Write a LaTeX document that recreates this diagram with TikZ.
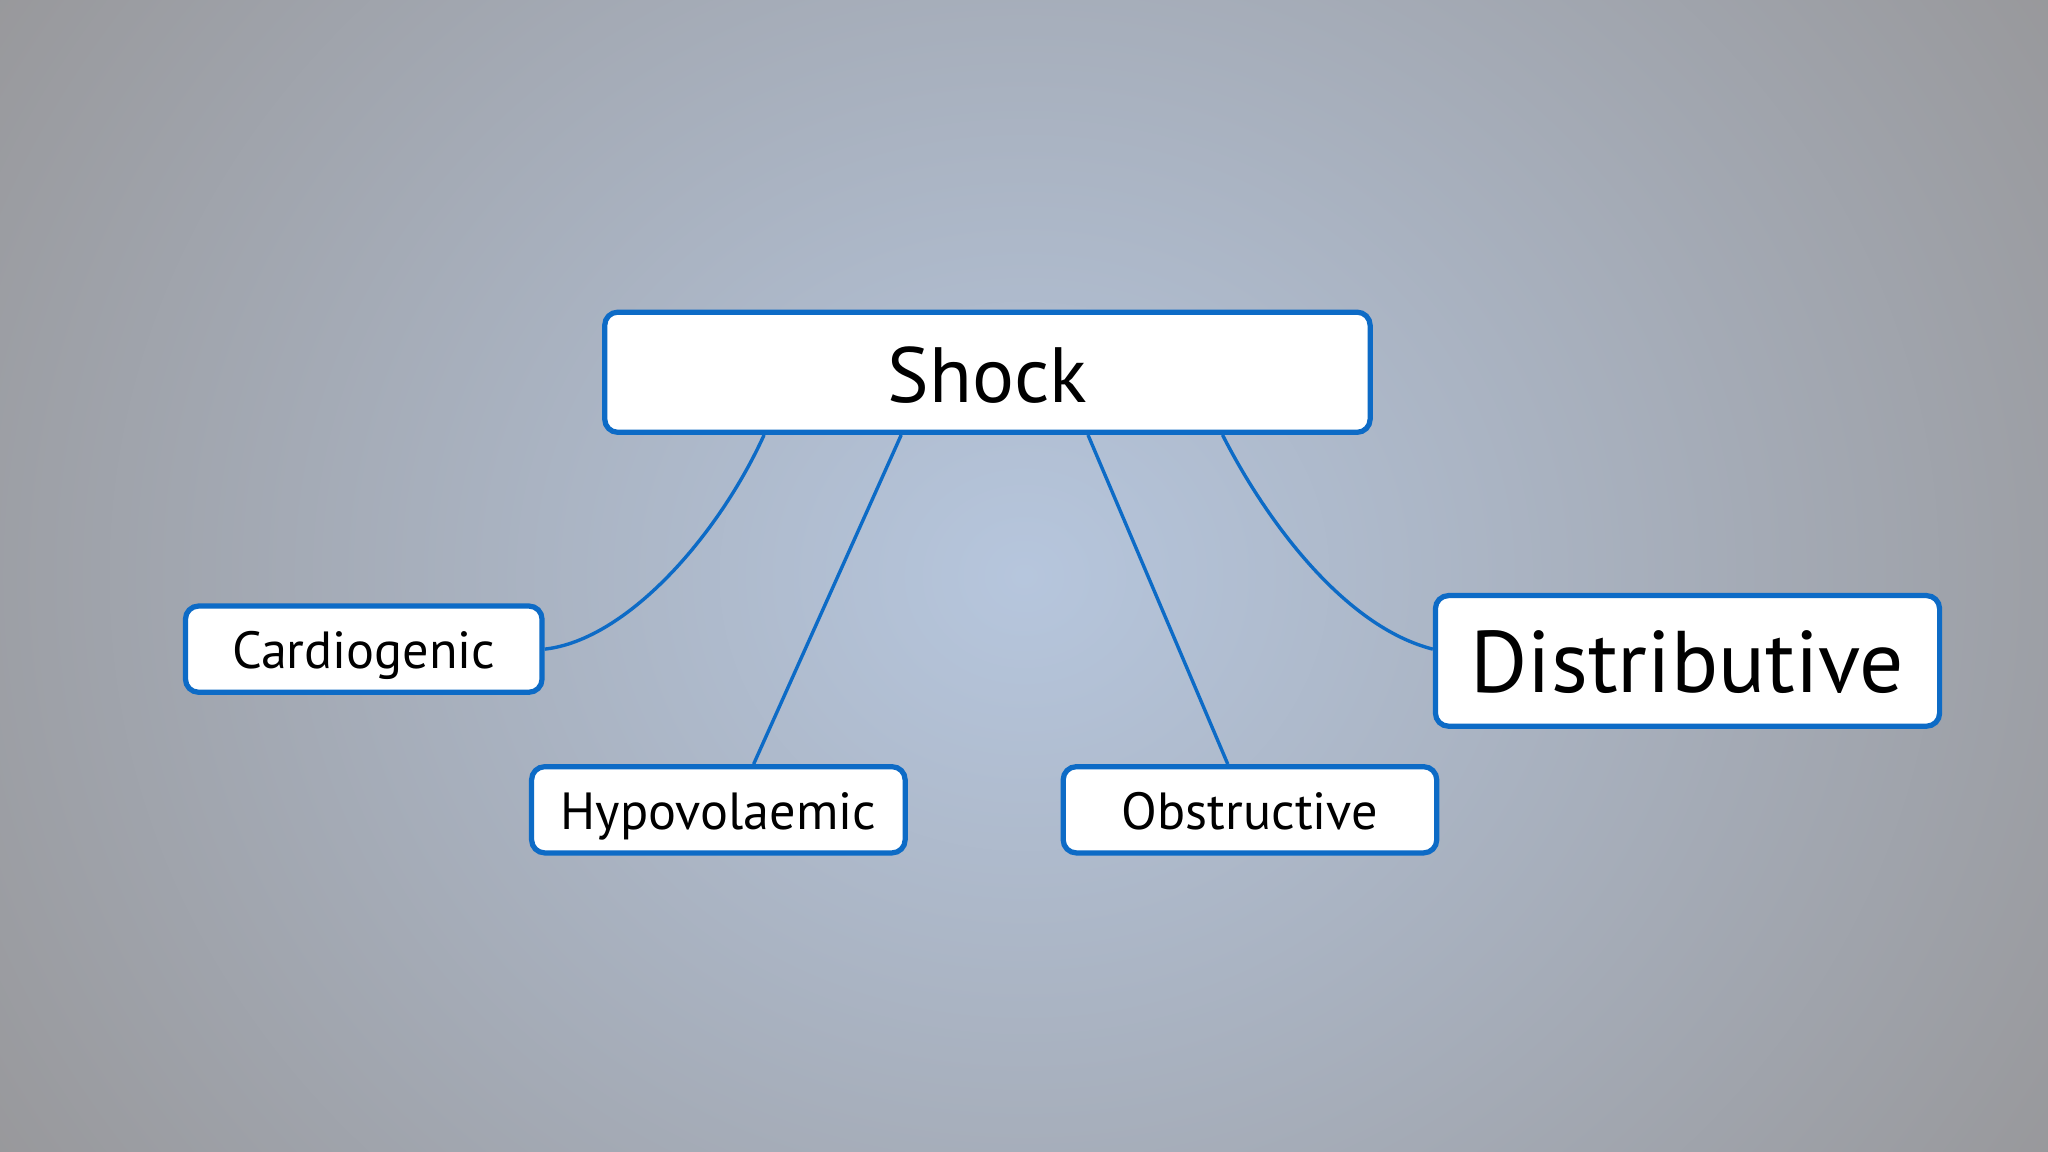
\documentclass[tikz,border=0pt]{standalone}
\usepackage{fontspec}
\setmainfont{PT Sans}
\usetikzlibrary{shadings}
\definecolor{edge}{HTML}{0D6BC6}
\definecolor{bgin}{HTML}{B6C6DD}
\definecolor{bgout}{HTML}{98989B}
\tikzset{
  box/.style={draw=edge,line width=4pt,rounded corners=10pt,fill=white,inner sep=0pt},
  link/.style={draw=edge,line width=2.6pt}
}
\begin{document}
\begin{tikzpicture}[x=1pt,y=-1pt]
\useasboundingbox (0,0) rectangle (1568,882);
\shade[inner color=bgin,outer color=bgout] (-150,-400) rectangle (1718,1282);
\node[box,minimum width=586pt,minimum height=92pt] (s) at (756,285) {};
\node[font=\fontsize{60}{60}\selectfont] at (756,287) {Shock};
\node[box,minimum width=273pt,minimum height=66pt] (c) at (278.5,497) {};
\node[font=\fontsize{40}{40}\selectfont] at (278.5,502) {Cardiogenic};
\node[box,minimum width=286pt,minimum height=66pt] (h) at (550,620) {};
\node[font=\fontsize{40}{40}\selectfont] at (550,625) {Hypovolaemic};
\node[box,minimum width=286pt,minimum height=66pt] (o) at (957,620) {};
\node[font=\fontsize{40}{40}\selectfont] at (957,621) {Obstructive};
\node[box,minimum width=386pt,minimum height=100pt] (d) at (1292,506) {};
\node[font=\fontsize{67}{67}\selectfont] at (1292,507) {Distributive};
\coordinate (s1) at (585,333);
\coordinate (s2) at (690,333);
\coordinate (s3) at (833,333);
\coordinate (s4) at (936,333);
\draw[link] (c.east) .. controls (480,490) and (550,410) .. (s1);
\draw[link] (h.north-|577,0) -- (s2);
\draw[link] (o.north-|940,0) -- (s3);
\draw[link] (d.west|-0,497) .. controls (1030,480) and (970,400) .. (s4);
\end{tikzpicture}
\end{document}
